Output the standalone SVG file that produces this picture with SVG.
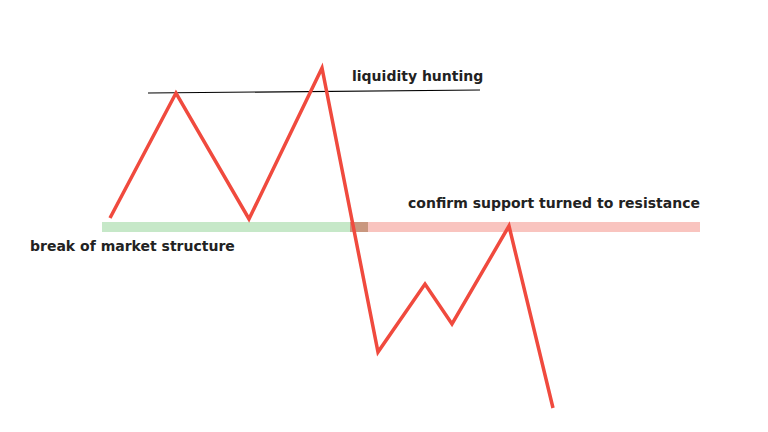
<svg xmlns="http://www.w3.org/2000/svg" width="768" height="432" viewBox="0 0 768 432">
<style>
.t{font-family:"DejaVu Sans",sans-serif;font-size:14px;font-weight:bold;fill:#222}
</style>
<rect width="768" height="432" fill="#fff"/>
<g id="zones">
<rect x="102" y="222" width="248" height="10" fill="#c6e8c8"/>
<rect x="350" y="222" width="350" height="10" fill="#f9c4bf"/>
<rect x="350" y="222" width="18" height="10" fill="#c9977f"/>
</g>
<g id="connectors">
<line x1="148" y1="93" x2="480" y2="90" stroke="#000" stroke-width="1.2"/>
<polyline points="110,218 176,93 249,219 322,68 378,352 425,284 452,324 509,226 553,408" fill="none" stroke="#f04a3e" stroke-width="3.5" stroke-linejoin="miter"/>
</g>
<g id="labels">
<text class="t" x="352" y="81">liquidity hunting</text>
<text class="t" x="408" y="208">confirm support turned to resistance</text>
<text class="t" x="30" y="251">break of market structure</text>
</g>
</svg>
